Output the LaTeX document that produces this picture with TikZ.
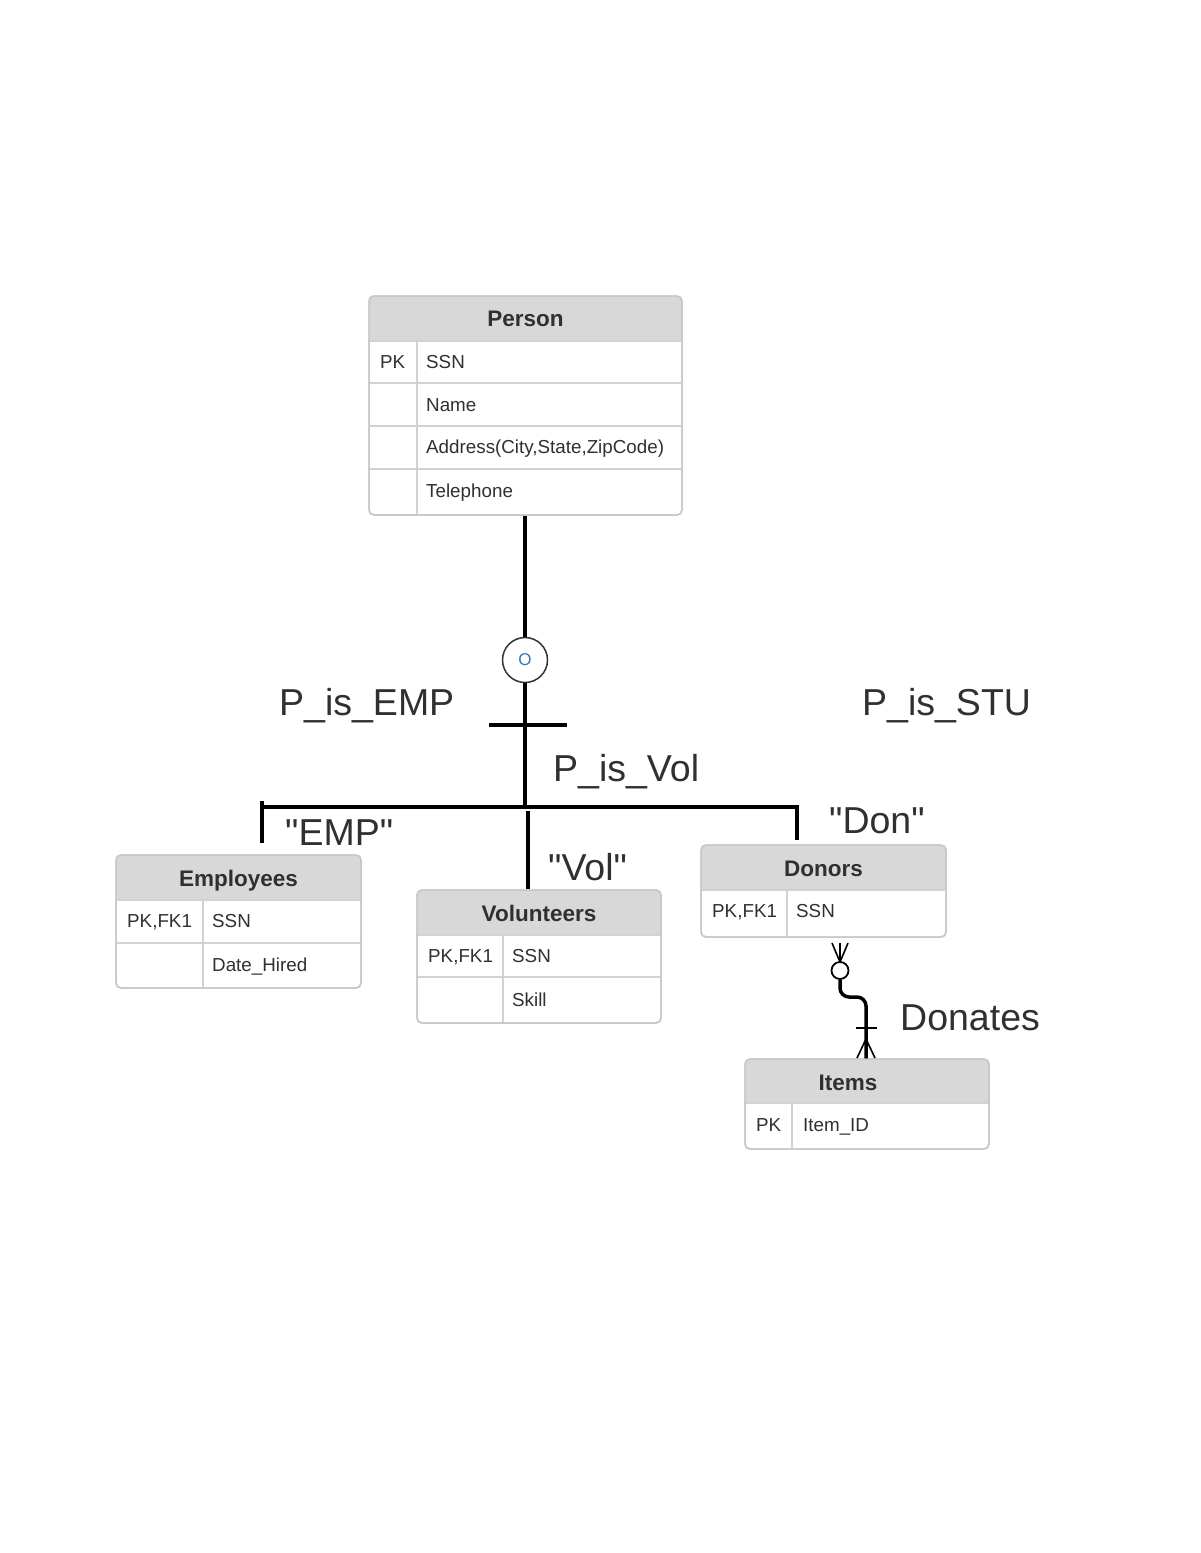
\documentclass[tikz,border=0pt]{standalone}
\usepackage{fontspec}
\setmainfont{Liberation Sans}[Ligatures=TeXOff]
\usetikzlibrary{fit}
\definecolor{hdrc}{HTML}{D8D8D8}
\definecolor{bordc}{HTML}{C8C8C8}
\definecolor{linec}{HTML}{D2D2D2}
\definecolor{txtc}{HTML}{303030}
\definecolor{oblue}{HTML}{3F6FB0}
\newcommand\ertab[6]{%
  \fill[white, rounded corners=5pt] (#2,#3) rectangle (#4,#5);
  \fill[hdrc, rounded corners=5pt] (#2,#3) rectangle (#4,#6);
  \fill[hdrc] (#2,#3+10) rectangle (#4,#6);
  \path (#2,#3) coordinate (#1-nw) (#4,#5) coordinate (#1-se);
  \node[tblbox, fit=(#1-nw)(#1-se)] (#1) {};
}
\begin{document}
\begin{tikzpicture}[x=1pt,y=-1pt,
  tblbox/.style={draw=bordc, line width=1.5pt, rounded corners=5pt, inner sep=0pt},
  rowline/.style={draw=linec, line width=1.5pt},
  hdrtxt/.style={font=\fontsize{22.5}{27}\selectfont\bfseries, text=txtc, anchor=base, inner sep=0pt},
  celltxt/.style={font=\fontsize{18.8}{22}\selectfont, text=txtc, anchor=base west, inner sep=0pt},
  biglbl/.style={font=\fontsize{37.5}{45}\selectfont, text=txtc, anchor=base west, inner sep=0pt},
  conn/.style={line width=3.5pt, black},
  prong/.style={line width=1.6pt, black},
  ocircle/.style={circle, draw=black!80, line width=1.5pt, fill=white, minimum size=45pt, inner sep=0pt, font=\fontsize{17}{20}\selectfont, text=oblue},
  scircle/.style={circle, draw=black, line width=1.8pt, fill=white, minimum size=17pt, inner sep=0pt}
]
\useasboundingbox (0,0) rectangle (1200,1553);

% ---------------- Person
\ertab{person}{369}{296}{682}{515}{341}
\draw[rowline] (369,341) -- (682,341);
\draw[rowline] (369,383) -- (682,383);
\draw[rowline] (369,426) -- (682,426);
\draw[rowline] (369,469) -- (682,469);
\draw[rowline] (417,341) -- (417,515);
\node[tblbox] at (person) [fit=(person-nw)(person-se)] {};
\node[hdrtxt] (personT) at (525.5,326) {Person};
\node[celltxt] (pk1) at (380,368) {PK};
\node[celltxt] (pf1) at (426,368) {SSN};
\node[celltxt] (pf2) at (426,411) {Name};
\node[celltxt] (pf3) at (426,453) {Address(City,State,ZipCode)};
\node[celltxt] (pf4) at (426,497) {Telephone};

% ---------------- Employees
\ertab{emp}{116}{855}{361}{988}{900}
\draw[rowline] (116,900) -- (361,900);
\draw[rowline] (116,943) -- (361,943);
\draw[rowline] (203,900) -- (203,988);
\node[tblbox] at (emp) [fit=(emp-nw)(emp-se)] {};
\node[hdrtxt] (empT) at (238.5,886) {Employees};
\node[celltxt] (ek1) at (127,927.5) {PK,FK1};
\node[celltxt] (ef1) at (212,927.5) {SSN};
\node[celltxt] (ef2) at (212,971.5) {Date\_Hired};

% ---------------- Volunteers
\ertab{vol}{417}{890}{661}{1023}{935}
\draw[rowline] (417,935) -- (661,935);
\draw[rowline] (417,977) -- (661,977);
\draw[rowline] (503,935) -- (503,1023);
\node[tblbox] at (vol) [fit=(vol-nw)(vol-se)] {};
\node[hdrtxt] (volT) at (539,921) {Volunteers};
\node[celltxt] (vk1) at (428,962.5) {PK,FK1};
\node[celltxt] (vf1) at (512,962.5) {SSN};
\node[celltxt] (vf2) at (512,1006) {Skill};

% ---------------- Donors
\ertab{don}{701}{845}{946}{937}{890}
\draw[rowline] (701,890) -- (946,890);
\draw[rowline] (787,890) -- (787,937);
\node[tblbox] at (don) [fit=(don-nw)(don-se)] {};
\node[hdrtxt] (donT) at (823.5,876) {Donors};
\node[celltxt] (dk1) at (712,917) {PK,FK1};
\node[celltxt] (df1) at (796,917) {SSN};

% ---------------- Items
\ertab{items}{745}{1059}{989}{1149}{1103}
\draw[rowline] (745,1103) -- (989,1103);
\draw[rowline] (792,1103) -- (792,1149);
\node[tblbox] at (items) [fit=(items-nw)(items-se)] {};
\node[hdrtxt] (itemsT) at (848,1090) {Items};
\node[celltxt] (ik1) at (756,1131) {PK};
\node[celltxt] (if1) at (803,1131) {Item\_ID};

% ---------------- Subtype connectors
\node[ocircle] (ocirc) at (525,660) {O};
\draw[conn] (ocirc |- person.south) -- (ocirc.north);
\coordinate (J) at (526,807);
\draw[conn] (ocirc.south) -- (ocirc.south |- J);
\coordinate (cbL) at (489,725);
\coordinate (cbR) at (567,725);
\draw[conn] (cbL) -- (cbR);
\coordinate (hL) at (262,807);
\coordinate (hR) at (797,807);
\coordinate (dT) at (797,840);
\draw[conn] (hL) -- (hR) -- (dT);
\coordinate (tT) at (262,801);
\coordinate (tB) at (262,843);
\draw[conn] (tT) -- (tB);
\coordinate (vT) at (528,811);
\draw[conn] (vT) -- (vT |- vol.north);

% ---------------- Donates relationship
\coordinate (dp1) at (832,943);
\coordinate (dp2) at (840,943);
\coordinate (dp3) at (848,943);
\coordinate (dpc) at (840,962);
\draw[prong] (dp1) -- (dpc) (dp2) -- (dpc) (dp3) -- (dpc);
\node[scircle] (dcirc) at (840,970.5) {};
\coordinate (bend1) at (840,997);
\coordinate (bend2) at (866,997);
\draw[conn, rounded corners=9pt] (dcirc.south) -- (bend1) -- (bend2) -- (bend2 |- items.north);
\coordinate (ixL) at (856,1028);
\coordinate (ixR) at (877,1028);
\draw[prong] (ixL) -- (ixR);
\coordinate (ipc) at (866,1039);
\coordinate (ip1) at (857,1058);
\coordinate (ip2) at (866,1058);
\coordinate (ip3) at (875,1058);
\draw[prong] (ipc) -- (ip1) (ipc) -- (ip2) (ipc) -- (ip3);

% ---------------- Labels
\node[biglbl] (lEMPrel) at (279,715) {P\_is\_EMP};
\node[biglbl] (lSTU) at (862,715) {P\_is\_STU};
\node[biglbl] (lVol) at (553,781) {P\_is\_Vol};
\node[biglbl] (lEMP) at (285,845) {"EMP"};
\node[biglbl] (lVolq) at (548,880) {"Vol"};
\node[biglbl] (lDon) at (829,833) {"Don"};
\node[biglbl] (lDonates) at (900,1030) {Donates};
\end{tikzpicture}
\end{document}
